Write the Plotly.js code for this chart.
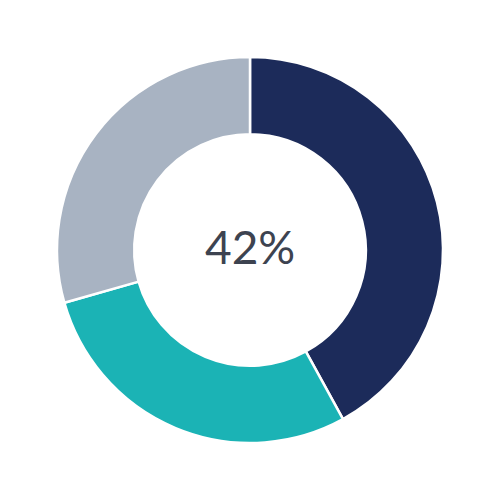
<!DOCTYPE html>
<html>
<head>
<meta charset="utf-8">
<script src="https://cdn.plot.ly/plotly-3.0.1.min.js"></script>
<style>html,body{margin:0;padding:0;background:#fff;}#chart{width:500px;height:500px;}</style>
</head>
<body>
<div id="chart"></div>
<script>
var labels = ["A", "B", "C"];
var values = [42, 28.6, 29.4];
var colors = ["#1c2b5a", "#1bb3b5", "#a8b3c2"];
var centerText = "42%";

Plotly.newPlot("chart", [{
  type: "pie",
  labels: labels,
  values: values,
  hole: 0.6,
  sort: false,
  direction: "clockwise",
  rotation: 0,
  textinfo: "none",
  hoverinfo: "none",
  marker: {colors: colors, line: {color: "#ffffff", width: 2.5}}
}], {
  width: 500, height: 500,
  margin: {l: 57, r: 57, t: 57, b: 57},
  showlegend: false,
  paper_bgcolor: "#ffffff",
  annotations: [{
    text: centerText, x: 0.5, y: 0.5, xref: "paper", yref: "paper", yshift: 4,
    showarrow: false, font: {family: "Lato, sans-serif", size: 46, color: "#3d4350"}
  }]
}, {staticPlot: true});
</script>
</body>
</html>
